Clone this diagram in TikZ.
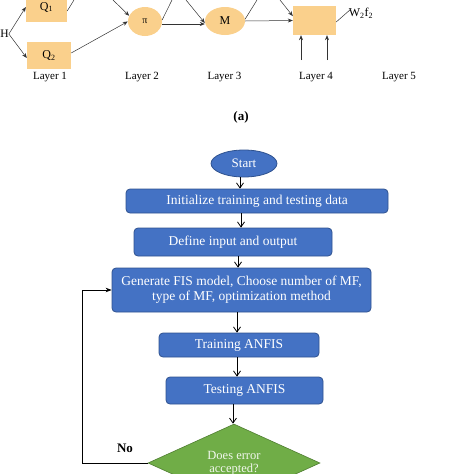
\documentclass[tikz,border=0pt]{standalone}
\usepackage{fontspec}
\setmainfont{Liberation Serif}
\usetikzlibrary{shapes.geometric,arrows.meta,calc}
\definecolor{orng}{HTML}{FAD08C}
\definecolor{bluef}{HTML}{4472C4}
\definecolor{blued}{HTML}{2F528F}
\definecolor{greenf}{HTML}{70AD47}
\definecolor{greend}{HTML}{507E32}
\definecolor{linec}{HTML}{333333}
\begin{document}
\begin{tikzpicture}[x=1pt,y=-1pt,
  obox/.style={rectangle,fill=orng,inner sep=0pt,font=\fontsize{12}{14}\selectfont},
  oell/.style={ellipse,fill=orng,inner sep=0pt,font=\fontsize{11}{13}\selectfont},
  lay/.style={font=\fontsize{11}{13}\selectfont,inner sep=0pt},
  tarr/.style={draw=linec,line width=0.5pt,-{Stealth[length=5pt,width=4pt]}},
  tline/.style={draw=linec,line width=0.5pt},
  fbox/.style={rectangle,rounded corners=4pt,fill=bluef,draw=blued,line width=0.8pt,text=white,inner sep=0pt,font=\fontsize{13.5}{15}\selectfont,align=center},
  farr/.style={draw=black,line width=0.8pt,-{Straight Barb[length=5pt,width=7pt]}},
]
\useasboundingbox (0,0) rectangle (474,474);
\clip (0,0) rectangle (474,474);

% ---------- part (a) ----------
\node[obox,minimum width=41,minimum height=30] (q1) at (46.5,7) {Q\textsubscript{1}};
\node[obox,minimum width=44,minimum height=27] (q2) at (49,55.5) {Q\textsubscript{2}};
\node[oell,minimum width=34,minimum height=29] (pi) at (145,21.5) {\fontsize{10}{12}\selectfont π};
\node[oell,minimum width=40,minimum height=28,font=\fontsize{12}{14}\selectfont] (m) at (225,21) {M};
\node[obox,minimum width=43,minimum height=29] (b4) at (314.5,20.5) {};
\node[lay,font=\fontsize{11.5}{14}\selectfont] (h) at (4.5,34) {H};
\node[lay,font=\fontsize{12}{14}\selectfont] (w2f2) at (361,13) {W\textsubscript{2}f\textsubscript{2}};

\coordinate (t1) at (74,0);
\coordinate (t2) at (113,0);
\coordinate (t3) at (172,0);
\coordinate (t4) at (186,0);
\coordinate (t5) at (257,0);
\coordinate (t6) at (280,0);
\coordinate (t7) at (351,9);
\coordinate (u1) at (301,60);
\coordinate (u2) at (327,60);

\draw[tarr] (h.east) -- (q1.west);
\draw[tarr] (h.east) -- ($(q2.west)+(0,2.5)$);
\draw[tline] ($(q1.east)+(0,4)$) -- (t1);
\draw[tarr] (t2) -- (pi.160);
\draw[tarr] ($(q2.east)+(0,-2.5)$) -- (pi.west);
\draw[tline] (pi.5) -- (t3);
\draw[tarr] ($(pi.east)+(0,2.5)$) -- ($(m.west)+(0,3)$);
\draw[tarr] (t4) -- ($(m.west)+(0,2)$);
\draw[tline] (m.5) -- (t5);
\draw[tarr] (m.east) -- (b4.west);
\draw[tarr] (t6) -- ($(b4.north west)!0.35!(b4.south west)$);
\draw[tline] ($(b4.east)+(0,1.5)$) -- (t7);
\draw[tarr] (u1) -- (u1 |- b4.south);
\draw[tarr] (u2) -- (u2 |- b4.south);

\node[lay] (l1) at (50,77) {Layer 1};
\node[lay] (l2) at (142,77) {Layer 2};
\node[lay] (l3) at (224.5,77) {Layer 3};
\node[lay] (l4) at (316,77) {Layer 4};
\node[lay] (l5) at (399,77) {Layer 5};

\node[font=\bfseries\fontsize{13}{15}\selectfont,inner sep=0pt] (cap) at (241,117) {(a)};

% ---------- flowchart ----------
\node[ellipse,fill=bluef,draw=blued,line width=0.8pt,text=white,inner sep=0pt,
      minimum width=66,minimum height=27,font=\fontsize{13}{15}\selectfont] (start) at (244,163.5) {Start};
\node[fbox,minimum width=262,minimum height=24] (init) at (257,201) {Initialize training and testing data};
\node[fbox,minimum width=198,minimum height=28] (def) at (233,242) {Define input and output};
\node[fbox,minimum width=259,minimum height=44] (gen) at (241.5,290) {Generate FIS model, Choose number of MF,\\type of MF, optimization method};
\node[fbox,minimum width=160,minimum height=24] (train) at (239,345) {Training ANFIS};
\node[fbox,minimum width=157,minimum height=27] (test) at (244.5,390.5) {Testing ANFIS};
\node[diamond,fill=greenf,draw=greend,line width=0.6pt,inner sep=0pt,aspect=2.2,
      minimum width=172,minimum height=78,text=white!90!greenf,align=center,
      font=\fontsize{12.5}{13.5}\selectfont] (dia) at (234,463) {Does error\\accepted?};
\node[font=\bfseries\fontsize{13}{15}\selectfont,inner sep=0pt] (no) at (125,448) {No};

\draw[farr] (start.south -| 240,0) -- (init.north -| 240,0);
\draw[farr] (init.south -| 241,0) -- (def.north -| 241,0);
\draw[farr] (def.south -| 238,0) -- (gen.north -| 238,0);
\draw[farr] (gen.south -| 237,0) -- (train.north -| 237,0);
\draw[farr] (train.south -| 237,0) -- (test.north -| 237,0);
\draw[farr] (test.south -| 233,0) -- (dia.north -| 233,0);
\draw[draw=black,line width=0.7pt,-{Stealth[length=6pt,width=4.5pt]}]
  (dia.west) -- (82,463) |- (gen.west);

\end{tikzpicture}
\end{document}
